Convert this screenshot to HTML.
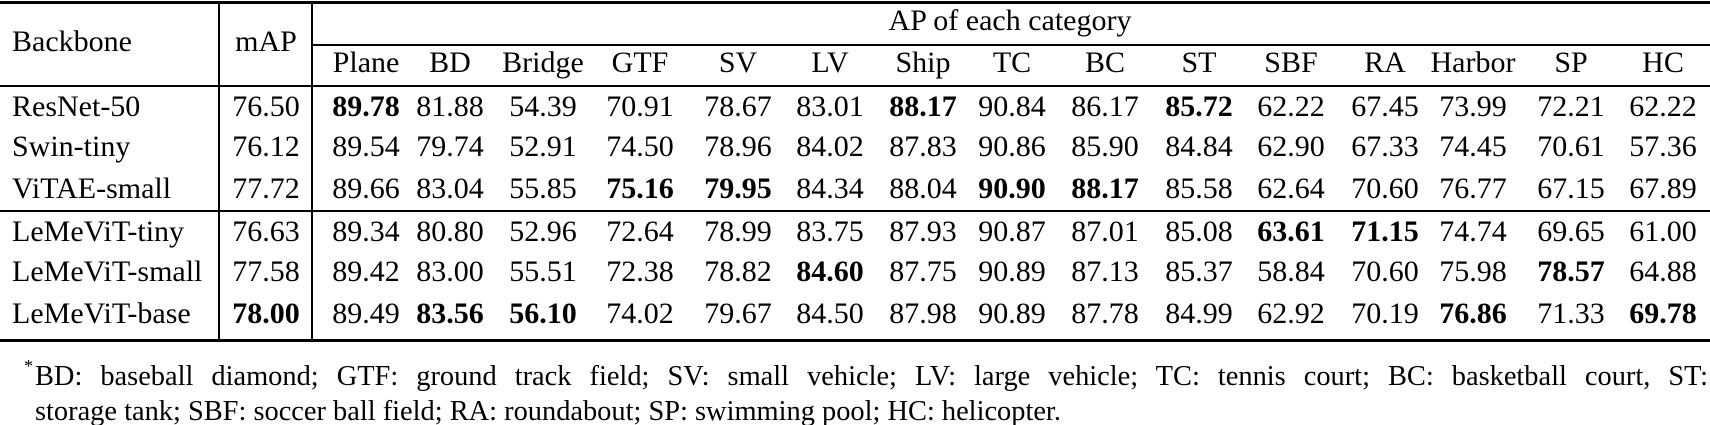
<!DOCTYPE html>
<html><head><meta charset="utf-8">
<style>
html,body{margin:0;padding:0;background:#fff;}
#root{position:relative;width:1710px;height:425px;overflow:hidden;font-family:"Liberation Serif",serif;color:#000;}
.t{position:absolute;font-size:30px;line-height:30px;white-space:nowrap;transform:translateX(-50%);}
.l{position:absolute;font-size:30px;line-height:30px;white-space:nowrap;}
.b{font-weight:bold;}
.hr{position:absolute;background:#000;}
.fl{position:absolute;left:35px;width:1673px;font-size:28.4px;line-height:30px;text-align:justify;text-align-last:justify;white-space:nowrap;}
.fl2{position:absolute;left:35px;font-size:28.4px;line-height:30px;white-space:nowrap;}
#star{position:absolute;left:24px;top:356px;font-size:18px;}
</style></head>
<body>
<div id="root">
  <div class="hr" style="left:0;top:1px;width:1710px;height:3px"></div>
  <div class="hr" style="left:312px;top:44px;width:1398px;height:1.5px"></div>
  <div class="hr" style="left:0;top:85px;width:1710px;height:2px"></div>
  <div class="hr" style="left:0;top:210px;width:1710px;height:1.5px"></div>
  <div class="hr" style="left:0;top:339px;width:1710px;height:3px"></div>
  <div class="hr" style="left:218px;top:4px;width:1.5px;height:335px"></div>
  <div class="hr" style="left:311px;top:4px;width:1.5px;height:335px"></div>

  <div class="l" style="left:12px;top:27px">Backbone</div>
  <div class="t" style="left:266px;top:27px">mAP</div>
  <div class="t" style="left:1010px;top:6px">AP of each category</div>

  <div class="fl" style="top:362px">BD: baseball diamond; GTF: ground track field; SV: small vehicle; LV: large vehicle; TC: tennis court; BC: basketball court, ST:</div>
  <div class="fl2" style="top:397px">storage tank; SBF: soccer ball field; RA: roundabout; SP: swimming pool; HC: helicopter.</div>
  <div id="star">*</div>
</div>
<script>
const categories = ["Plane","BD","Bridge","GTF","SV","LV","Ship","TC","BC","ST","SBF","RA","Harbor","SP","HC"];
const backbones = ["ResNet-50","Swin-tiny","ViTAE-small","LeMeViT-tiny","LeMeViT-small","LeMeViT-base"];
const mapValues = ["76.50","76.12","77.72","76.63","77.58","78.00"];
const row0 = ["89.78","81.88","54.39","70.91","78.67","83.01","88.17","90.84","86.17","85.72","62.22","67.45","73.99","72.21","62.22"];
const row1 = ["89.54","79.74","52.91","74.50","78.96","84.02","87.83","90.86","85.90","84.84","62.90","67.33","74.45","70.61","57.36"];
const row2 = ["89.66","83.04","55.85","75.16","79.95","84.34","88.04","90.90","88.17","85.58","62.64","70.60","76.77","67.15","67.89"];
const row3 = ["89.34","80.80","52.96","72.64","78.99","83.75","87.93","90.87","87.01","85.08","63.61","71.15","74.74","69.65","61.00"];
const row4 = ["89.42","83.00","55.51","72.38","78.82","84.60","87.75","90.89","87.13","85.37","58.84","70.60","75.98","78.57","64.88"];
const row5 = ["89.49","83.56","56.10","74.02","79.67","84.50","87.98","90.89","87.78","84.99","62.92","70.19","76.86","71.33","69.78"];
const rows = [row0,row1,row2,row3,row4,row5];
const boldMap = [false,false,false,false,false,true];
const boldCells = [[0,6,9],[],[3,4,7,8],[10,11],[5,13],[1,2,12,14]];

const colX = [366,450,543,640,738,830,923,1012,1105,1199,1291,1385,1473,1571,1663];
const rowBaseline = [117,157,199,242,282,324];
const root = document.getElementById('root');
function mk(cls, txt, x, base){
  const d = document.createElement('div');
  d.className = cls;
  d.textContent = txt;
  d.style.left = x + 'px';
  d.style.top = (base - 25) + 'px';
  root.appendChild(d);
  return d;
}
categories.forEach((c,i)=>{
  const d = mk('t', c, colX[i], 73);
  
  
});
backbones.forEach((b,r)=>{
  const d = mk('l', b, 12, rowBaseline[r]);
  
  
  const m = mk('t' + (boldMap[r] ? ' b' : ''), mapValues[r], 266, rowBaseline[r]);
  
  
  rows[r].forEach((v,i)=>{
    const c = mk('t' + (boldCells[r].includes(i) ? ' b' : ''), v, colX[i], rowBaseline[r]);
    
    
  });
});
</script>
</body></html>
